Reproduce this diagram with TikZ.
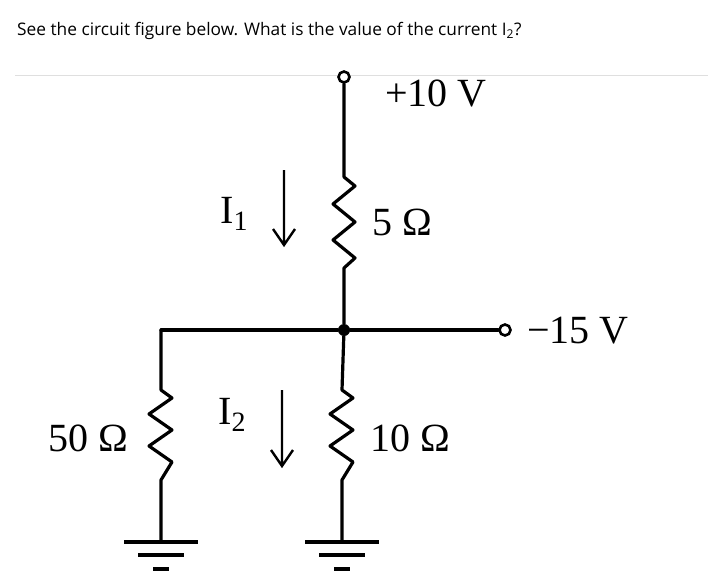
\documentclass[tikz,border=0pt]{standalone}
\usepackage{fontspec}
\setmainfont{Liberation Serif}
\newfontfamily\titlefont{Open Sans}
\begin{document}
\begin{tikzpicture}[x=1pt,y=-1pt,
  wire/.style={line width=3.2pt,line cap=round,line join=round},
  lbl/.style={font=\fontsize{40}{42}\selectfont,inner sep=0pt},
  term/.style={circle,draw,line width=2.6pt,minimum size=11pt,inner sep=0pt,fill=white},
  cur/.style={line width=2.4pt}]
\useasboundingbox (0,0) rectangle (708,583);
\node[anchor=west,font=\titlefont\fontsize{17.3}{20}\selectfont,inner sep=0pt] (title) at (17,31) {See the circuit figure below. What is the value of the current I\textsubscript{2}?};
\draw[gray!25,line width=1pt] (15,76) -- (708,76);
% nodes
\node[term] (top) at (344,77) {};
\node[term] (right) at (505,330) {};
\node[circle,fill,inner sep=0pt,minimum size=12pt] (j) at (344,330) {};
\coordinate (lc) at (161,330);
\coordinate (g1) at (161,542);
\coordinate (g2) at (342,542);
% top resistor
\draw[wire] (top) -- (344,177) -- (355,186) -- (333,204) -- (355,222) -- (333,240) -- (355,258) -- (344,268) -- (j);
% horizontal
\draw[wire] (lc) -- (j) -- (right);
% left resistor
\draw[wire] (lc) -- (161,390) -- (172,398) -- (149,414) -- (172,430) -- (149,446) -- (172,462) -- (161,480) -- (g1);
% right resistor
\draw[wire] (j) -- (342,390) -- (353,398) -- (330,414) -- (353,430) -- (330,446) -- (353,462) -- (342,480) -- (g2);
% grounds
\foreach \g in {g1,g2}{
  \draw[wire,line cap=butt] ([xshift=-37pt]\g) -- ([xshift=37pt]\g);
  \draw[wire,line cap=butt] ([xshift=-23pt,yshift=-13pt]\g) -- ([xshift=23pt,yshift=-13pt]\g);
  \draw[wire,line cap=butt] ([xshift=-8pt,yshift=-27pt]\g) -- ([xshift=8pt,yshift=-27pt]\g);
}
% current arrows
\coordinate (a1s) at (284,170); \coordinate (a1e) at (284,245);
\coordinate (a2s) at (282,390); \coordinate (a2e) at (282,466);
\draw[cur] (a1s) -- (a1e) (273,229) -- (a1e) -- (295,229);
\draw[cur] (a2s) -- (a2e) (271,450) -- (a2e) -- (293,450);
% labels
\node[lbl] (v10) at (436,94) {+10 V};
\node[lbl] (r5) at (402,222) {5 Ω};
\node[lbl] (v15) at (578,331) {−15 V};
\node[lbl] (r50) at (88,438) {50 Ω};
\node[lbl] (r10) at (410,438) {10 Ω};
\node[lbl] (i1) at (234,214) {I\raisebox{-7pt}{\fontsize{28}{28}\selectfont 1}};
\node[lbl] (i2) at (232,415) {I\raisebox{-7pt}{\fontsize{28}{28}\selectfont 2}};
\end{tikzpicture}
\end{document}
